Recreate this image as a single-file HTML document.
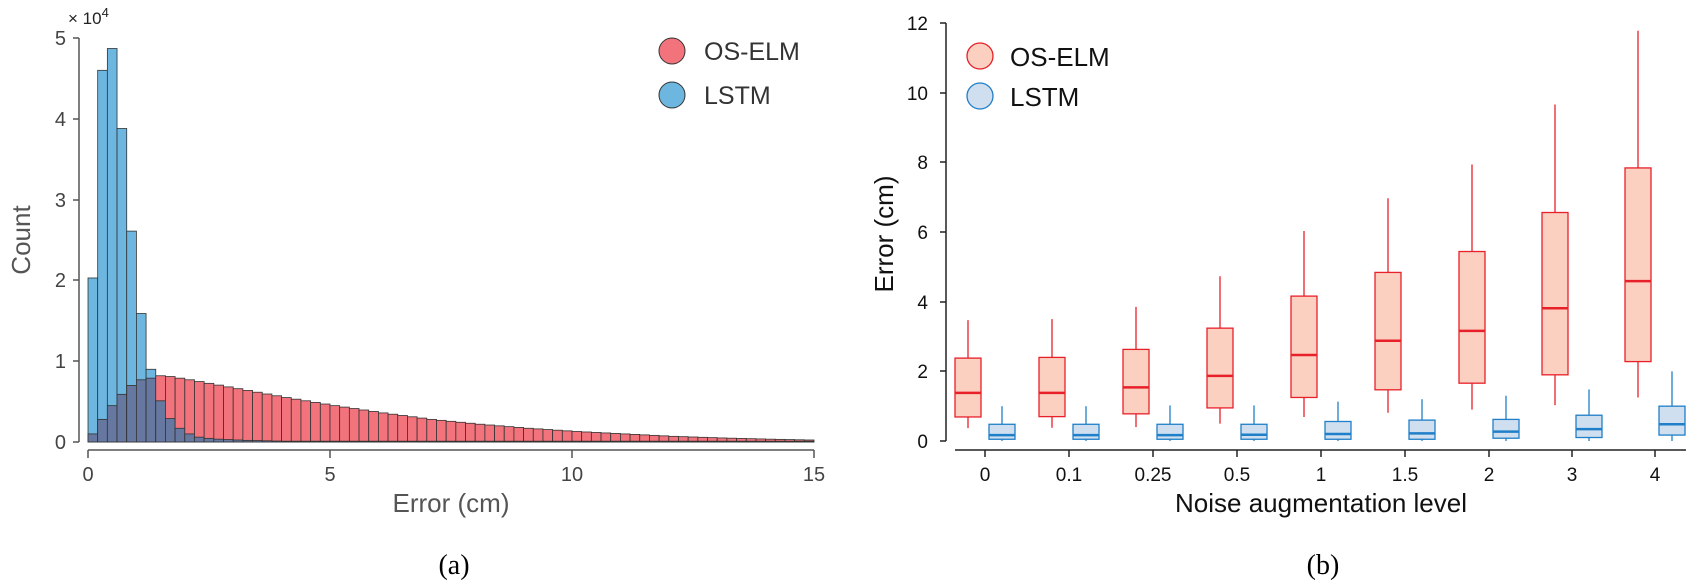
<!DOCTYPE html>
<html><head><meta charset="utf-8"><style>
html,body{margin:0;padding:0;background:#fff;width:1704px;height:586px;overflow:hidden}
svg{display:block}
text{font-family:"Liberation Sans",sans-serif}
</style></head><body>
<svg id="s" width="1704" height="586" xmlns="http://www.w3.org/2000/svg">
<g stroke="#555" stroke-width="1.5" fill="none">
<path d="M79,38 V442"/>
<path d="M73,38H79M73,119H79M73,200H79M73,280H79M73,361H79M73,442H79"/>
<path d="M88,450H814M88,450V458M330,450V458M572,450V458M814,450V458"/>
</g>
<g font-size="20" fill="#444" text-anchor="end">
<text x="66" y="45">5</text><text x="66" y="126">4</text><text x="66" y="207">3</text>
<text x="66" y="287">2</text><text x="66" y="368">1</text><text x="66" y="449">0</text>
</g>
<g font-size="20" fill="#444" text-anchor="middle">
<text x="88" y="481">0</text><text x="330" y="481">5</text><text x="572" y="481">10</text><text x="814" y="481">15</text>
</g>
<text x="68" y="24" font-size="17" fill="#222">× 10<tspan dy="-7" font-size="13">4</tspan></text>
<text transform="translate(30,240) rotate(-90)" font-size="26" fill="#555" text-anchor="middle">Count</text>
<text x="451" y="512" font-size="26" fill="#555" text-anchor="middle">Error (cm)</text>
<g id="hist"></g>
<circle cx="672" cy="51" r="13" fill="#f2737b" stroke="#333" stroke-width="1"/>
<circle cx="672" cy="95" r="13" fill="#6cb6e0" stroke="#333" stroke-width="1"/>
<text x="704" y="60" font-size="25" fill="#333">OS-ELM</text>
<text x="704" y="104" font-size="25" fill="#333">LSTM</text>
<text x="454" y="574" font-size="28" fill="#000" text-anchor="middle" style="font-family:'Liberation Serif',serif">(a)</text>

<g stroke="#222" stroke-width="1.5" fill="none">
<path d="M946,23V441"/>
<path d="M940,23H946M940,93H946M940,162H946M940,232H946M940,302H946M940,371H946M940,441H946"/>
<path d="M955,450H1686"/>
</g>
<g font-size="19" fill="#111" text-anchor="end">
<text x="928" y="30">12</text><text x="928" y="100">10</text><text x="928" y="169">8</text>
<text x="928" y="239">6</text><text x="928" y="309">4</text><text x="928" y="378">2</text><text x="928" y="448">0</text>
</g>
<text transform="translate(893,234) rotate(-90)" font-size="26" fill="#111" text-anchor="middle">Error (cm)</text>
<text x="1321" y="512" font-size="26" fill="#111" text-anchor="middle">Noise augmentation level</text>
<g id="box"></g>
<circle cx="980" cy="56" r="13" fill="#fbd0c0" stroke="#e8202a" stroke-width="1.3"/>
<circle cx="980" cy="96" r="13" fill="#cfdff0" stroke="#1f7fc8" stroke-width="1.3"/>
<text x="1010" y="66" font-size="26" fill="#111">OS-ELM</text>
<text x="1010" y="106" font-size="26" fill="#111">LSTM</text>
<text x="1323" y="574" font-size="28" fill="#000" text-anchor="middle" style="font-family:'Liberation Serif',serif">(b)</text>
</svg>
<script>
(function(){
var NS="http://www.w3.org/2000/svg";
function el(p,t,a){var e=document.createElementNS(NS,t);for(var k in a)e.setAttribute(k,a[k]);p.appendChild(e);return e;}
var h=document.getElementById('hist');
var blue=[2.03,4.6,4.87,3.88,2.61,1.59,0.9,0.51,0.29,0.17,0.1,0.06,0.045,0.035,0.03,0.025,0.02,0.018,0.015,0.012];
var redA=[[0,0.1],[1,0.28],[2,0.45],[3,0.59],[4,0.70],[5,0.77],[6,0.79],[7,0.82],[8,0.81],[10,0.77],[15,0.66],[20,0.55],[25,0.45],[30,0.36],[35,0.28],[40,0.22],[45,0.17],[50,0.13],[55,0.1],[60,0.07],[65,0.05],[70,0.035],[74,0.025]];
function red(i){for(var j=0;j<redA.length-1;j++){var a=redA[j],b=redA[j+1];if(i>=a[0]&&i<=b[0])return a[1]+(b[1]-a[1])*(i-a[0])/(b[0]-a[0]);}return 0.02;}
var x0=88,bw=(814-88)/75,y0=442,sc=80.8;
for(var i=0;i<75;i++){
 var r=red(i),b=i<blue.length?blue[i]:0.01;
 var x=x0+i*bw, mx=Math.max(r,b), mn=Math.min(r,b);
 el(h,'rect',{x:x,y:y0-mx*sc,width:bw,height:mx*sc,fill:(b>r?'#6cb6e0':'#f2737b'),stroke:'#333','stroke-width':0.8});
 el(h,'rect',{x:x,y:y0-mn*sc,width:bw,height:mn*sc,fill:'#6677a0',stroke:'#333','stroke-width':0.8});
}
var g=document.getElementById('box');
var cats=[985,1069,1153,1237,1321,1405,1489,1572,1655];
var labels=['0','0.1','0.25','0.5','1','1.5','2','3','4'];
var R=[[0.37,0.69,1.38,2.38,3.47],[0.38,0.7,1.38,2.4,3.5],[0.4,0.78,1.54,2.63,3.85],[0.5,0.95,1.87,3.24,4.73],[0.69,1.25,2.47,4.16,6.03],[0.81,1.47,2.88,4.84,6.97],[0.9,1.66,3.16,5.44,7.94],[1.03,1.9,3.81,6.56,9.66],[1.25,2.28,4.59,7.84,11.78]];
var B=[[0,0.05,0.17,0.48,1.0],[0,0.05,0.17,0.48,1.0],[0,0.05,0.17,0.48,1.02],[0,0.05,0.18,0.48,1.02],[0,0.05,0.2,0.56,1.13],[0,0.05,0.22,0.6,1.2],[0,0.08,0.27,0.62,1.3],[0,0.1,0.34,0.74,1.48],[0,0.17,0.48,1.0,2.0]];
function Y(v){return 441-v*34.83;}
for(var k=0;k<9;k++){
 var c=cats[k];
 el(g,'line',{x1:c,y1:450,x2:c,y2:457,stroke:'#222','stroke-width':1.5});
 var t=el(g,'text',{x:c,y:481,'font-size':19,fill:'#111','text-anchor':'middle'});t.textContent=labels[k];
 [[R[k],c-17,'#e8202a','#fbd0c0'],[B[k],c+17,'#1f7fc8','#cfdff0']].forEach(function(s){
  var d=s[0],cx=s[1];
  el(g,'line',{x1:cx,y1:Y(d[0]),x2:cx,y2:Y(d[4]),stroke:s[2],'stroke-width':1.3});
  el(g,'rect',{x:cx-13,y:Y(d[3]),width:26,height:Y(d[1])-Y(d[3]),fill:s[3],stroke:s[2],'stroke-width':1.3});
  el(g,'line',{x1:cx-13,y1:Y(d[2]),x2:cx+13,y2:Y(d[2]),stroke:s[2],'stroke-width':2.5});
 });
}
})();
</script>
</body></html>
